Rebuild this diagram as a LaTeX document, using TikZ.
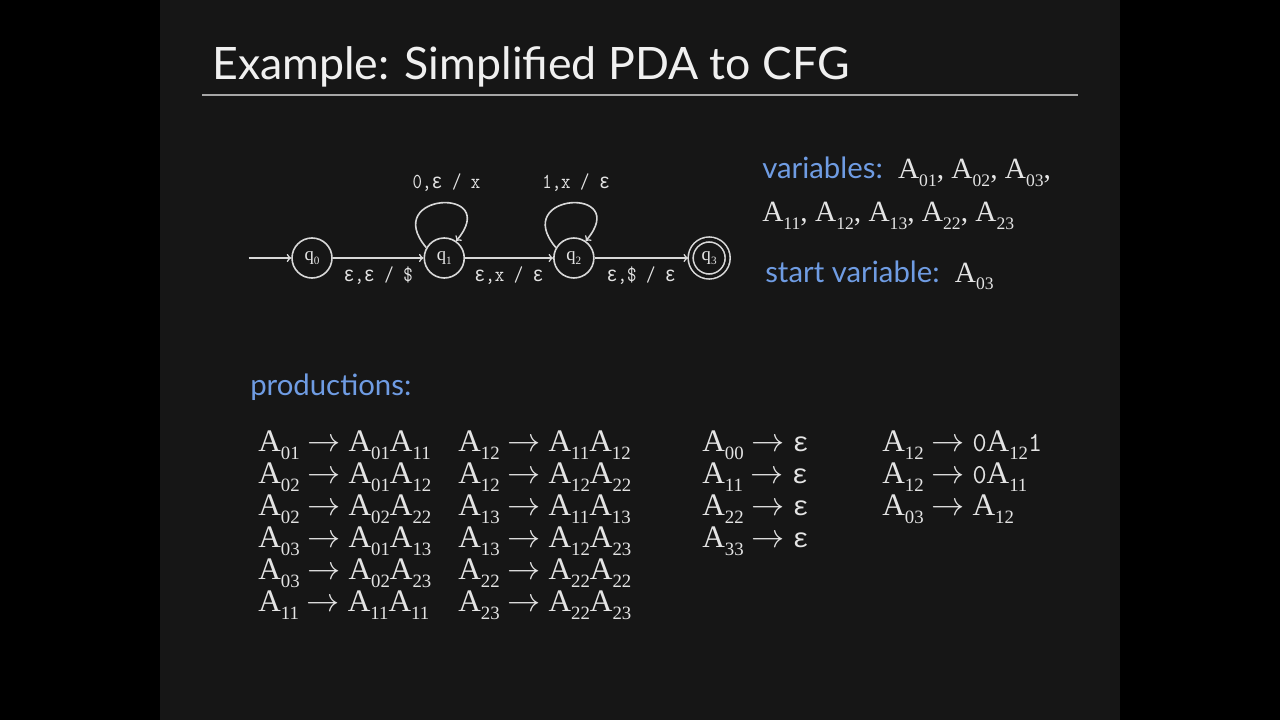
\documentclass[tikz,border=0pt]{standalone}
\usepackage{fontspec}
\setmainfont{Liberation Serif}
\newfontfamily\gillfont{Lato}
\newfontfamily\epsfont{Liberation Mono}
\usepackage{graphicx}
\usetikzlibrary{arrows,positioning}

\definecolor{slidebg}{HTML}{161616}
\definecolor{ink}{HTML}{E4E4E4}
\definecolor{wire}{HTML}{D8D8D8}
\definecolor{headblue}{HTML}{6F9CE3}
\definecolor{rulegray}{HTML}{A6A6A6}

\newcommand{\lowsub}[2]{#1\raisebox{-.26em}{\scalebox{.6}{#2}}}
\newcommand{\va}[1]{\lowsub{A}{#1}}
\newcommand{\goes}{~$\rightarrow$~}
\newcommand{\eps}{{\epsfont ε}}
\newcommand{\narrowtt}[1]{\scalebox{.86}[1]{\ttfamily #1}}
\newcommand{\prodtt}[1]{{\ttfamily\fontsize{20.5}{24}\selectfont #1}}

\begin{document}
\begin{tikzpicture}[
        x=0.75pt, y=-0.75pt,
        pdastate/.style={circle, draw=wire, line width=1.2pt, minimum size=30pt, inner sep=0pt, text=ink, font=\fontsize{14}{16}\selectfont},
        accepting/.style={pdastate, minimum size=27.75pt, double=slidebg, double distance=2.5pt, outer sep=2pt},
        arr/.style={->, >=to, draw=wire, line width=1.2pt},
        elabel/.style={text=ink, font=\fontsize{16}{18}\selectfont, inner sep=2pt},
        heading/.style={text=headblue, font=\gillfont\fontsize{22}{26}\selectfont, inner sep=0pt, anchor=base west},
        varlist/.style={text=ink, font=\fontsize{22}{24}\selectfont, inner sep=0pt, anchor=base west},
        prodcol/.style={text=ink, font=\fontsize{23.5}{24}\selectfont, align=left, inner sep=0pt, anchor=base west}
    ]

    % Slide and side bars
    \fill[black] (0,0) rectangle (1280,720);
    \fill[slidebg] (160,0) rectangle (1120,720);

    % Title
    \node[text=white!94!black, font=\gillfont\fontsize{33.5}{40}\selectfont, inner sep=0pt, anchor=base west] (title) at (212,80) {Example: Simplified PDA to CFG};
    \draw[rulegray, line width=1.1pt] (202,95) -- (1078,95);

    % PDA states
    \node[pdastate] (q0) at (312,258) {\lowsub{q}{0}};
    \node[pdastate, right=68pt of q0] (q1) {\lowsub{q}{1}};
    \node[pdastate, right=66pt of q1] (q2) {\lowsub{q}{2}};
    \node[accepting, right=70pt of q2] (q3) {\lowsub{q}{3}};
    \coordinate[left=32pt of q0] (init);

    % PDA transitions
    \draw[arr] (init) -- (q0);
    \draw[arr] (q0) -- node[elabel, below=4pt] {\narrowtt{\eps,\eps{} / \$}} (q1);
    \draw[arr] (q1) -- node[elabel, below=4pt] {\narrowtt{\eps,x / \eps}} (q2);
    \draw[arr] (q2) -- node[elabel, below=4pt] {\narrowtt{\eps,\$ / \eps}} (q3);
    \draw[arr] (q1.150) to[out=130, in=50, looseness=6] node[elabel, above=6pt, xshift=4pt] {\narrowtt{0,\eps{} / x}} (q1.55);
    \draw[arr] (q2.150) to[out=130, in=50, looseness=6] node[elabel, above=6pt, xshift=4pt] {\narrowtt{1,x / \eps}} (q2.55);

    % Variables
    \node[heading] (varhead) at (762,179) {variables:};
    \node[varlist, xshift=11pt] (varsA) at (varhead.base east) {\va{01}, \va{02}, \va{03},};
    \node[varlist] (varsB) at (762,222) {\va{11}, \va{12}, \va{13}, \va{22}, \va{23}};
    \node[heading] (starthead) at (765,282) {start variable:};
    \node[varlist, xshift=11pt] (startvar) at (starthead.base east) {\va{03}};

    % Productions (a node's base is its last line)
    \node[heading] (prodhead) at (250,395) {productions:};
    \node[prodcol] (colA) at (258,611) {\va{01}\goes\va{01}\va{11}\\ \va{02}\goes\va{01}\va{12}\\ \va{02}\goes\va{02}\va{22}\\ \va{03}\goes\va{01}\va{13}\\ \va{03}\goes\va{02}\va{23}\\ \va{11}\goes\va{11}\va{11}};
    \node[prodcol] (colB) at (458,611) {\va{12}\goes\va{11}\va{12}\\ \va{12}\goes\va{12}\va{22}\\ \va{13}\goes\va{11}\va{13}\\ \va{13}\goes\va{12}\va{23}\\ \va{22}\goes\va{22}\va{22}\\ \va{23}\goes\va{22}\va{23}};
    \node[prodcol] (colC) at (702,547) {\va{00}\goes\prodtt{\eps}\\ \va{11}\goes\prodtt{\eps}\\ \va{22}\goes\prodtt{\eps}\\ \va{33}\goes\prodtt{\eps}};
    \node[prodcol] (colD) at (882,515) {\va{12}\goes\prodtt{0}\va{12}\prodtt{1}\\ \va{12}\goes\prodtt{0}\va{11}\\ \va{03}\goes\va{12}};

\end{tikzpicture}
\end{document}
